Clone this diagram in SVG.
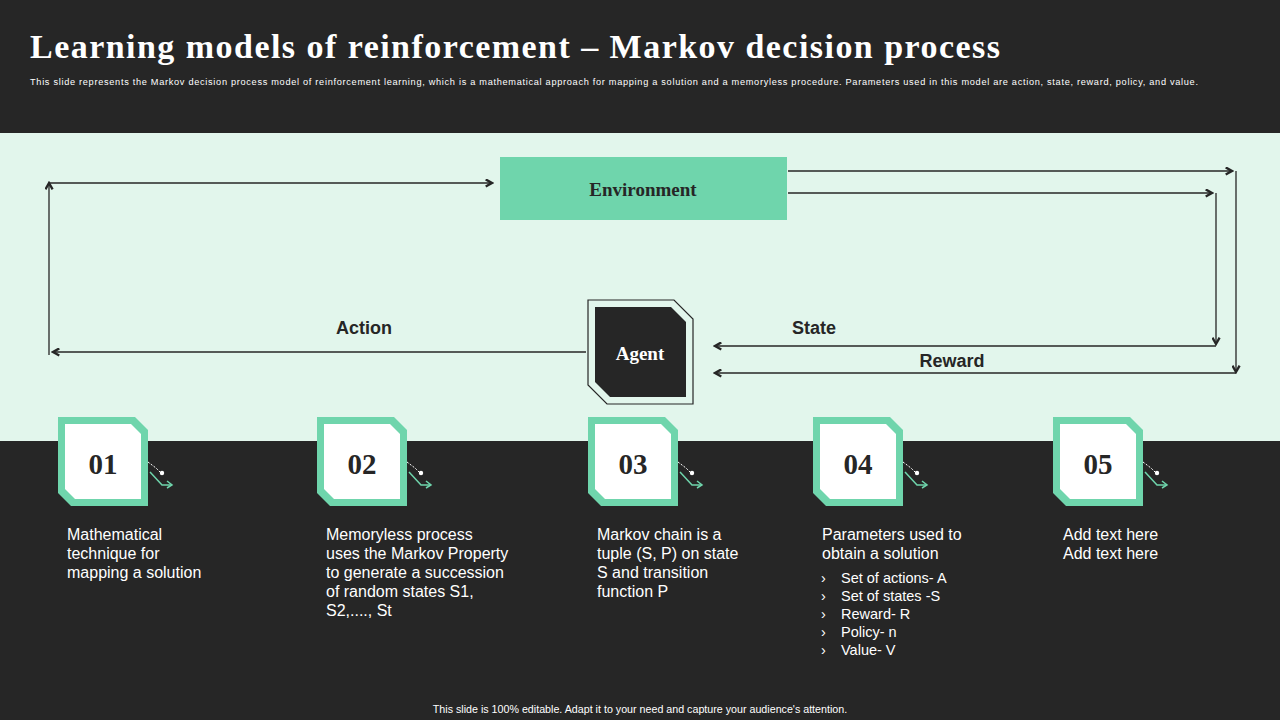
<svg xmlns="http://www.w3.org/2000/svg" width="1280" height="720" viewBox="0 0 1280 720">
<defs>
<style>
.serif{font-family:"Liberation Serif",serif;font-weight:bold}
.sans{font-family:"Liberation Sans",Arial,sans-serif}
.ln{stroke:#262626;stroke-width:1.3;fill:none}
.body{fill:#ffffff;font-size:16px}
</style>
<marker id="ah" viewBox="0 0 10 10" refX="8" refY="5" markerWidth="9" markerHeight="9" orient="auto" markerUnits="userSpaceOnUse">
<path d="M1,1 L8,5 L1,9" fill="none" stroke="#262626" stroke-width="2.6"/>
</marker>
<g id="numbox">
<path d="M0,0 H77 L90,13 V89 H13 L0,76 Z" fill="#6fd5ac"/>
<path d="M7,7 H73 L83,17 V82 H17 L7,72 Z" fill="#ffffff"/>
<path d="M90,45 L98,51 L103,56" fill="none" stroke="#ffffff" stroke-width="1" stroke-dasharray="2,1.5"/>
<circle cx="104" cy="56" r="2.2" fill="#ffffff"/>
<path d="M92,55 L104,68 L114,68" fill="none" stroke="#6fd5ac" stroke-width="1.5"/>
<path d="M109,64 L114,68 L109,71" fill="none" stroke="#6fd5ac" stroke-width="1.5"/>
</g>
</defs>
<rect width="1280" height="720" fill="#262626"/>
<rect x="0" y="133" width="1280" height="308" fill="#e2f6ec"/>
<text x="30" y="58" class="serif" font-size="34" fill="#ffffff" textLength="970" lengthAdjust="spacing">Learning models of reinforcement – Markov decision process</text>
<text x="30" y="85" class="sans" font-size="9.2" fill="#ffffff" textLength="1168" lengthAdjust="spacing">This slide represents the Markov decision process model of reinforcement learning, which is a mathematical  approach for mapping  a solution and a memoryless procedure. Parameters used in this model are action, state, reward, policy, and value.</text>

<g id="connectors">
<path class="ln" d="M586,352 H53" marker-end="url(#ah)"/>
<path class="ln" d="M49,355 V183" marker-end="url(#ah)"/>
<path class="ln" d="M49,183 H492" marker-end="url(#ah)"/>
<path class="ln" d="M788,171 H1232" marker-end="url(#ah)"/>
<path class="ln" d="M1236,171 V372" marker-end="url(#ah)"/>
<path class="ln" d="M1236,373 H715" marker-end="url(#ah)"/>
<path class="ln" d="M788,193 H1212" marker-end="url(#ah)"/>
<path class="ln" d="M1216,193 V344" marker-end="url(#ah)"/>
<path class="ln" d="M1216,346 H715" marker-end="url(#ah)"/>
</g>
<text x="364" y="334" class="sans" font-size="18" font-weight="bold" fill="#262626" text-anchor="middle">Action</text>
<text x="814" y="334" class="sans" font-size="18" font-weight="bold" fill="#262626" text-anchor="middle">State</text>
<text x="952" y="367" class="sans" font-size="18" font-weight="bold" fill="#262626" text-anchor="middle">Reward</text>

<g id="environment">
<rect x="500" y="157" width="287" height="63" fill="#6fd5ac"/>
<text x="643" y="196" class="serif" font-size="19" fill="#262626" text-anchor="middle">Environment</text>
</g>
<g id="agent">
<path d="M588,300 H674 L693,319 V404 H607 L588,385 Z" fill="#e2f6ec" stroke="#262626" stroke-width="1.2"/>
<path d="M595,307 H671 L686,322 V397 H610 L595,382 Z" fill="#262626"/>
<text x="640" y="360" class="serif" font-size="19" fill="#ffffff" text-anchor="middle">Agent</text>
</g>

<g id="item1">
<use href="#numbox" x="58" y="417"/>
<text x="103" y="474" class="serif" font-size="29" fill="#262626" text-anchor="middle">01</text>
<text class="sans body"><tspan x="67" y="540">Mathematical</tspan><tspan x="67" y="559">technique for</tspan><tspan x="67" y="578">mapping a solution</tspan></text>
</g>
<g id="item2">
<use href="#numbox" x="317" y="417"/>
<text x="362" y="474" class="serif" font-size="29" fill="#262626" text-anchor="middle">02</text>
<text class="sans body"><tspan x="326" y="540">Memoryless process</tspan><tspan x="326" y="559">uses the Markov Property</tspan><tspan x="326" y="578">to generate a succession</tspan><tspan x="326" y="597">of random states S1,</tspan><tspan x="326" y="616">S2,...., St</tspan></text>
</g>
<g id="item3">
<use href="#numbox" x="588" y="417"/>
<text x="633" y="474" class="serif" font-size="29" fill="#262626" text-anchor="middle">03</text>
<text class="sans body"><tspan x="597" y="540">Markov chain is a</tspan><tspan x="597" y="559">tuple (S, P) on state</tspan><tspan x="597" y="578">S and transition</tspan><tspan x="597" y="597">function P</tspan></text>
</g>
<g id="item4">
<use href="#numbox" x="813" y="417"/>
<text x="858" y="474" class="serif" font-size="29" fill="#262626" text-anchor="middle">04</text>
<text class="sans body"><tspan x="822" y="540">Parameters used to</tspan><tspan x="822" y="559">obtain a solution</tspan></text>
<text class="sans" font-size="14.5" fill="#ffffff"><tspan x="821" y="583">›</tspan><tspan x="841" y="583">Set of actions- A</tspan><tspan x="821" y="601">›</tspan><tspan x="841" y="601">Set of states -S</tspan><tspan x="821" y="619">›</tspan><tspan x="841" y="619">Reward- R</tspan><tspan x="821" y="637">›</tspan><tspan x="841" y="637">Policy- n</tspan><tspan x="821" y="655">›</tspan><tspan x="841" y="655">Value- V</tspan></text>
</g>
<g id="item5">
<use href="#numbox" x="1053" y="417"/>
<text x="1098" y="474" class="serif" font-size="29" fill="#262626" text-anchor="middle">05</text>
<text class="sans body"><tspan x="1063" y="540">Add text here</tspan><tspan x="1063" y="559">Add text here</tspan></text>
</g>
<text x="640" y="713" class="sans" font-size="10.7" fill="#ffffff" text-anchor="middle">This slide is 100% editable.  Adapt it to your need and capture your audience's attention.</text>
</svg>
